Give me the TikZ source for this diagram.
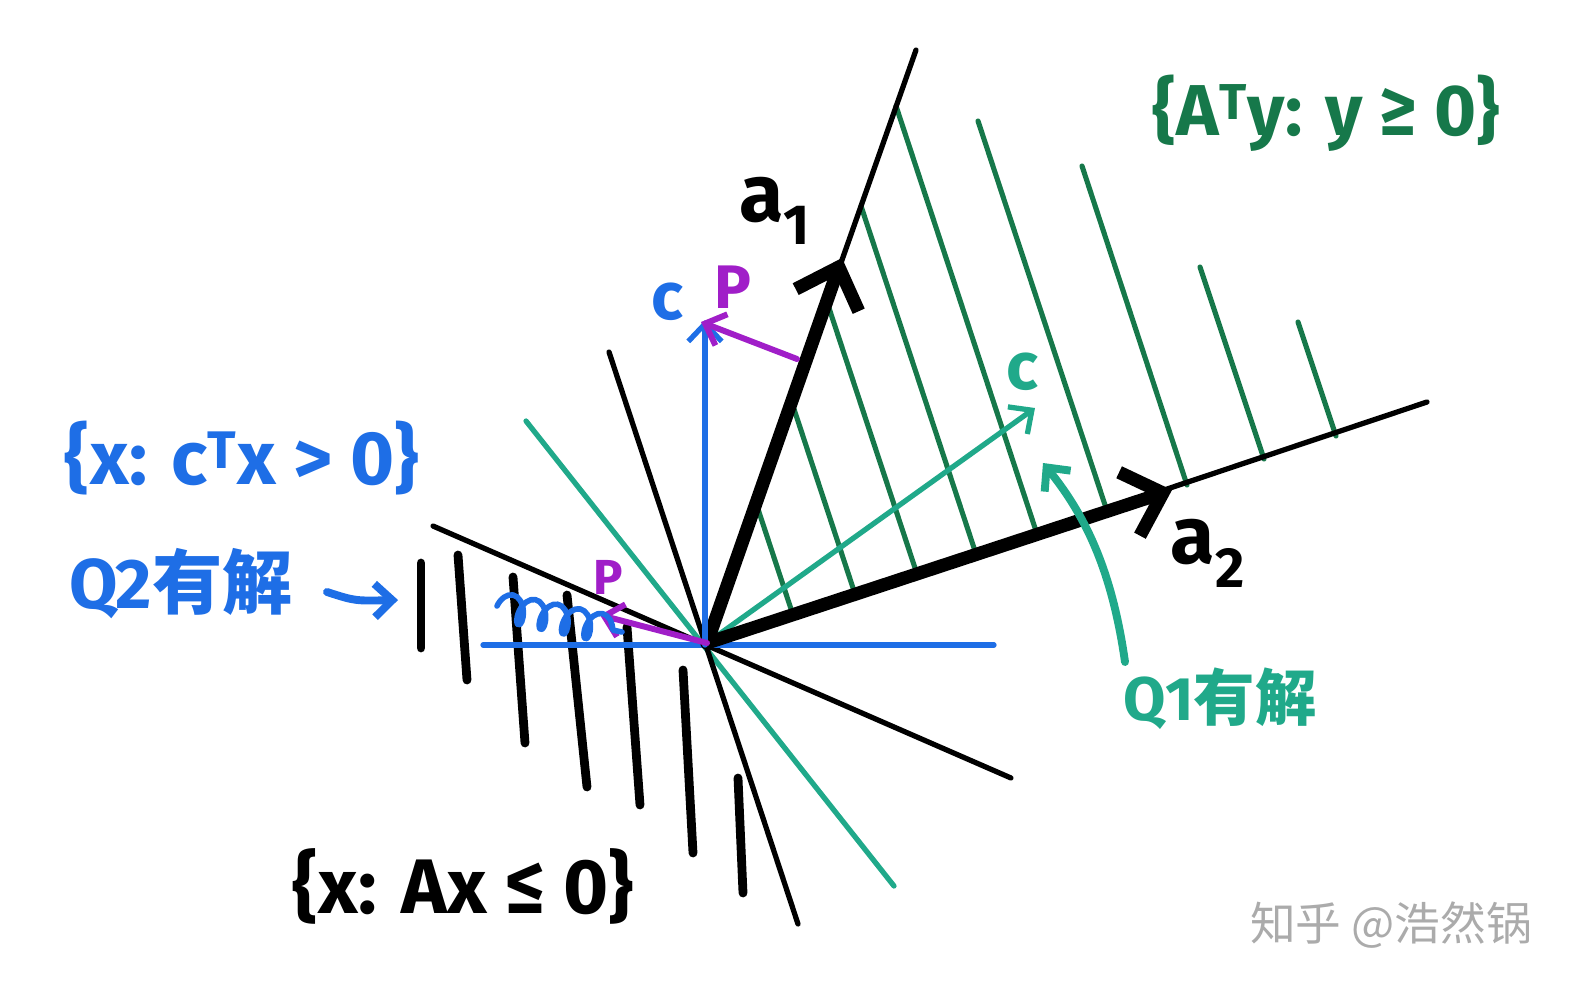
\documentclass[tikz,border=0pt]{standalone}
\usepackage{fontspec}
\usepackage{xcolor}
\usetikzlibrary{arrows.meta,decorations.pathmorphing}
\setmainfont{Fira Sans}
\newfontfamily\cjk{Noto Sans CJK SC}
\definecolor{hwblue}{HTML}{1E6EE6}
\definecolor{hwteal}{HTML}{20A98A}
\definecolor{hwgreen}{HTML}{16784A}
\definecolor{hwpurple}{HTML}{A01EC8}
\definecolor{hwgray}{HTML}{ABABAB}

\begin{document}
\begin{tikzpicture}[x=0.02cm,y=-0.02cm,line cap=round,line join=round,
  blk/.style={black,line width=3pt},
  grn/.style={hwgreen,line width=2.9pt},
  hatch/.style={black,line width=5pt},
  vec/.style={black,line width=7.5pt,-{Straight Barb[length=20pt,width=38pt]}},
  tip/.style={-{Straight Barb[length=10pt,width=19pt]}},
  lbl/.style={inner sep=0pt,font=\bfseries\fontsize{38}{38}\selectfont}]
  \useasboundingbox (0,0) rectangle (1578,990);
  \coordinate (O) at (707,643);
  \coordinate (A1) at (842,258);
  \coordinate (A2) at (1172,490);
  \foreach \xa/\ya/\xb/\yb in {896/106/1037/534,978/121/1107/511,1082/166/1187/485,
      1200/267/1264/459,1298/322/1336/436,861/206/976/554,827/302/917/574,
      792/403/855/594,756/503/793/615}
    \draw[grn] (\xa,\ya) -- (\xb,\yb);
  \foreach \xa/\ya/\xb/\yb in {421/563/421/648,458/555/467/680,513/577/525/743,
      567/595/587/787,627/627/640/805,683/670/693/853,738/778/743/893}
    \draw[hatch] (\xa,\ya) -- (\xb,\yb);
  \draw[hwteal,line width=3pt] (526,421) -- (894,886);
  \draw[blk] (609,352) -- (798,924);
  \draw[blk] (433,526) -- (1011,778);
  \draw[blk] (916,50) -- (O) -- (1427,402);
  \draw[hwblue,line width=3pt] (483,645) -- (994,645);
  \draw[hwteal,line width=3pt,tip] (O) -- (1035,408) coordinate (Ct);
  \draw[vec] (O) -- (A1);
  \draw[vec] (O) -- (A2);
  \draw[hwblue,line width=3pt,tip] (705,645) -- (705,320) coordinate (Cb);
  \draw[hwpurple,line width=3.4pt,tip] (797,359) coordinate (Pf) -- (701,322) coordinate (Pb);
  \draw[hwpurple,line width=3.4pt,tip] (O) -- (600,615) coordinate (Pl);
  \draw[hwblue,line width=3.2pt,decorate,decoration={coil,aspect=0.55,amplitude=8pt,segment length=13pt}]
    (497,606) -- (622,632);

  \node[lbl,hwgreen,font=\bfseries\fontsize{41}{41}\selectfont] (aty) at (1326,113) {\{A\textsuperscript{T}y: y ≥ 0\}};
  \node[lbl,hwblue,font=\bfseries\fontsize{43}{43}\selectfont] (ctx) at (242,458) {\{x: c\textsuperscript{T}x > 0\}};
  \node[lbl,hwblue,font=\bfseries\fontsize{40}{40}\selectfont] (q2) at (181,584) {Q2{\cjk 有解}};
  \node[lbl,font=\bfseries\fontsize{44}{44}\selectfont] (axz) at (463,886) {\{x: Ax ≤ 0\}};
  \node[lbl,hwteal,font=\bfseries\fontsize{35}{35}\selectfont] (q1) at (1220,699) {Q1{\cjk 有解}};
  \node[lbl,font=\bfseries\fontsize{46}{46}\selectfont] (la1) at (775,211) {a\textsubscript{1}};
  \node[lbl,font=\bfseries\fontsize{46}{46}\selectfont] (la2) at (1208,553) {a\textsubscript{2}};
  \node[lbl,hwblue,font=\bfseries\fontsize{38}{38}\selectfont] (lcb) at (667,302) {c};
  \node[lbl,hwteal,font=\bfseries\fontsize{38}{38}\selectfont] (lct) at (1022,372) {c};
  \node[lbl,hwpurple,font=\bfseries\fontsize{35}{35}\selectfont] (lpu) at (733,287) {P};
  \node[lbl,hwpurple,font=\bfseries\fontsize{28}{28}\selectfont] (lpl) at (608,577) {P};
  \node[lbl,hwgray,font=\cjk\fontsize{26}{26}\selectfont] (mark) at (1391,925) {知乎 @浩然锅};

  \coordinate (q2a) at (327,592);
  \coordinate (q2b) at (398,600);
  \draw[hwblue,line width=4.5pt,tip] (q2a) .. controls (355,601) .. (q2b);
  \coordinate (q1a) at (1125,662);
  \coordinate (q1b) at (1043,463);
  \draw[hwteal,line width=4.5pt,tip] (q1a) .. controls (1112,570) and (1085,515) .. (q1b);
\end{tikzpicture}
\end{document}
